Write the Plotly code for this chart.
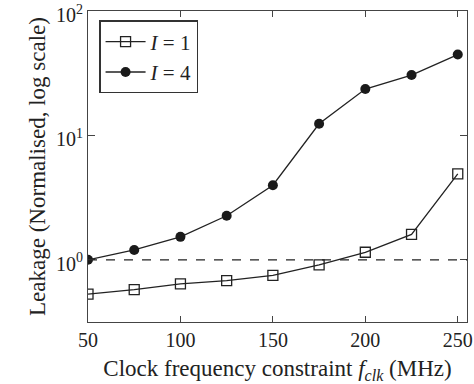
import plotly.graph_objects as go

freq = [50, 75, 100, 125, 150, 175, 200, 225, 250]
leak_i1 = [0.53, 0.575, 0.64, 0.68, 0.75, 0.91, 1.15, 1.6, 4.9]
leak_i4 = [1.0, 1.2, 1.53, 2.26, 3.98, 12.4, 23.6, 30.6, 44.7]
x_ticks = [50, 100, 150, 200, 250]
y_ticks = [1, 10, 100]
y_ticktext = ["10<sup>0</sup>", "10<sup>1</sup>", "10<sup>2</sup>"]
y_minor = [0.4, 0.5, 0.6, 0.7, 0.8, 0.9, 2, 3, 4, 5, 6, 7, 8, 9, 20, 30, 40, 50, 60, 70, 80, 90]
ref_level = 1.0

FONT = "Liberation Serif"
Y_RANGE = [-0.5, 2.0005]
fig = go.Figure()
fig.add_trace(go.Scatter(
    x=freq, y=leak_i1, mode="lines+markers", name="<i>I</i> = 1",
    line=dict(color="#222222", width=1.3),
    marker=dict(symbol="square-open", size=10, color="#222222", line=dict(width=1.3)),
))
fig.add_trace(go.Scatter(
    x=freq, y=leak_i4, mode="lines+markers", name="<i>I</i> = 4",
    line=dict(color="#222222", width=1.3),
    marker=dict(symbol="circle", size=10, color="#1a1a1a"),
))
fig.add_shape(type="line", xref="paper", x0=0, x1=1, yref="y", y0=ref_level, y1=ref_level,
              line=dict(color="#222222", width=1.2, dash="dash"))

fig.update_layout(
    width=474, height=384,
    margin=dict(l=88, r=7, t=11, b=62, autoexpand=False),
    paper_bgcolor="white", plot_bgcolor="white",
    font=dict(family=FONT, size=20, color="#222222"),
    showlegend=True,
    legend=dict(x=0.03, y=0.97, xanchor="left", yanchor="top",
                bordercolor="#333333", borderwidth=1.2, bgcolor="white",
                font=dict(size=21), itemwidth=40, tracegroupgap=0),
    yaxis2=dict(overlaying="y", anchor="x", side="left", type="log", range=Y_RANGE,
                tickmode="array", tickvals=y_minor, ticks="inside", ticklen=5,
                tickcolor="#666666", showticklabels=False, showline=True,
                linecolor="#444444", linewidth=1.2,
                showgrid=False, zeroline=False, mirror="ticks"),
)
fig.update_xaxes(
    range=[50, 255], tickvals=x_ticks, ticks="inside", ticklen=6,
    showline=True, linecolor="#444444", linewidth=1.2, mirror="ticks",
    showgrid=False, zeroline=False,
    title=dict(text="Clock frequency constraint <i>f<sub>clk</sub></i> (MHz)", standoff=9,
               font=dict(size=23)),
    tickfont=dict(size=20),
)
fig.layout.yaxis.update(
    type="log", range=Y_RANGE, tickvals=y_ticks, ticktext=y_ticktext,
    ticks="inside", ticklen=7, ticklabeloverflow="allow", ticklabelshift=4,
    showline=True, linecolor="#444444", linewidth=1.2, mirror="ticks",
    showgrid=False, zeroline=False,
    title=dict(text="Leakage (Normalised, log scale)", standoff=3, font=dict(size=23)),
    tickfont=dict(size=20),
)
fig.write_html("out.html", post_script="document.body.style.margin='0';",
               config={"displayModeBar": False})
